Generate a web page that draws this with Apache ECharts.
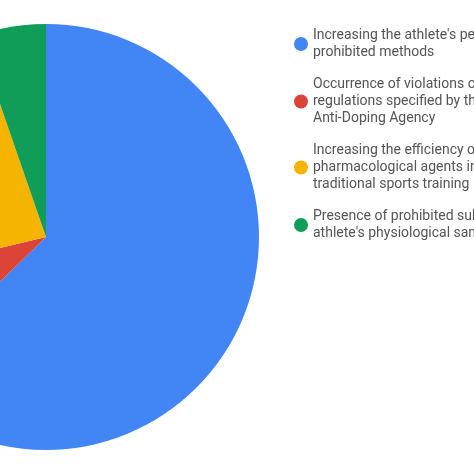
<!DOCTYPE html>
<html><head><meta charset="utf-8">
<script src="https://cdn.jsdelivr.net/npm/echarts@6/dist/echarts.min.js"></script>
<style>html,body{margin:0;padding:0;background:#fff}#c{width:474px;height:474px}</style>
</head><body><div id="c"></div>
<script>
const categories = [
  "Increasing the athlete's performance through\nprohibited methods",
  "Occurrence of violations of the anti-doping\nregulations specified by the World\nAnti-Doping Agency",
  "Increasing the efficiency of the use of\npharmacological agents in addition to\ntraditional sports training",
  "Presence of prohibited substances in the\nathlete's physiological samples"
];
const values = [62.7, 8.6, 23.4, 5.3];
const colors = ['#4285F4', '#DB4437', '#F4B400', '#0F9D58'];
const chart = echarts.init(document.getElementById('c'));
chart.setOption({
  animation: false,
  color: colors,
  legend: {
    orient: 'vertical', left: 289, top: 22, itemGap: 15,
    icon: 'circle', itemWidth: 14, itemHeight: 14,
    textStyle: { fontFamily: 'Roboto, Arial, sans-serif', fontSize: 14, color: '#555', lineHeight: 17 },
    data: categories
  },
  series: [{
    type: 'pie', center: [46, 237], radius: 213, startAngle: 90, clockwise: true,
    label: { show: false }, labelLine: { show: false },
    itemStyle: { borderWidth: 0 },
    data: categories.map((n, i) => ({ name: n, value: values[i] }))
  }]
});
</script></body></html>
